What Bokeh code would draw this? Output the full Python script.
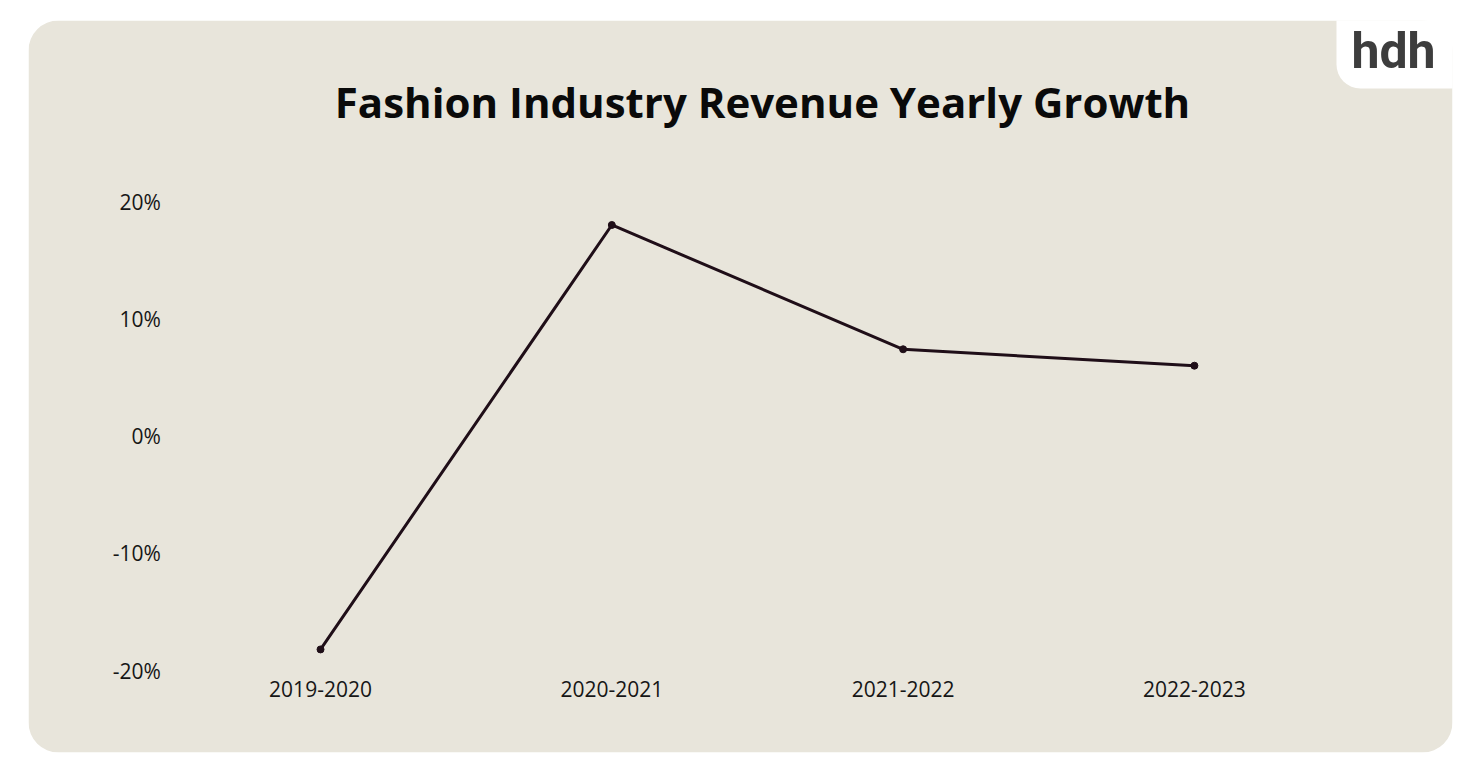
from bokeh.plotting import figure
from bokeh.models import Range1d, FixedTicker, PrintfTickFormatter, BoxAnnotation, Label, ColumnDataSource
from bokeh.embed import file_html
from bokeh.resources import INLINE

periods = ["2019-2020", "2020-2021", "2021-2022", "2022-2023"]
growth = [-18.2, 18.0, 7.4, 6.0]
y_ticks = [-20, -10, 0, 10, 20]
title_text = "Fashion Industry Revenue Yearly Growth"
logo_text = "hdh"

BEIGE = "#E8E5DB"
LINE = "#1F0E18"
FONT = "Open Sans"

W, H = 1464, 758
x_idx = list(range(len(periods)))

p = figure(width=W, height=H,
           x_range=Range1d(-1.0025, 3.886),
           y_range=Range1d(-26.99, 35.44),
           output_backend="svg", toolbar_location=None,
           min_border_left=28, min_border_right=W - 1452,
           min_border_top=20, min_border_bottom=H - 752,
           border_fill_color="white", background_fill_color=None,
           outline_line_color=None)

# beige rounded panel (canvas units)
panel = BoxAnnotation(left=28, right=1452, top=20, bottom=752,
                      left_units="canvas", right_units="canvas",
                      top_units="canvas", bottom_units="canvas",
                      fill_color=BEIGE, fill_alpha=1, line_color=None,
                      border_radius=30, level="underlay")
p.add_layout(panel)
cut = BoxAnnotation(left=1336, right=1470, top=0, bottom=88,
                    left_units="canvas", right_units="canvas",
                    top_units="canvas", bottom_units="canvas",
                    fill_color="white", fill_alpha=1, line_color=None,
                    border_radius=(0, 0, 0, 24), level="underlay")
p.add_layout(cut)

src = ColumnDataSource(data=dict(x=x_idx, y=growth))
p.line("x", "y", source=src, line_color=LINE, line_width=3)
p.scatter("x", "y", source=src, size=7, fill_color=LINE, line_color=LINE)

p.xgrid.visible = False
p.ygrid.visible = False
for ax in (p.xaxis[0], p.yaxis[0]):
    ax.axis_line_color = None
    ax.major_tick_line_color = None
    ax.minor_tick_line_color = None
    ax.major_tick_out = 0
    ax.major_tick_in = 0
    ax.major_label_text_font = FONT
    ax.major_label_text_font_size = "21px"
    ax.major_label_text_color = "#161616"
p.yaxis[0].ticker = FixedTicker(ticks=y_ticks)
p.yaxis[0].formatter = PrintfTickFormatter(format="%d%%")
p.yaxis[0].major_label_standoff = 14
p.yaxis[0].fixed_location = -0.5
p.xaxis[0].ticker = FixedTicker(ticks=x_idx)
p.xaxis[0].major_label_overrides = {i: s for i, s in zip(x_idx, periods)}
p.xaxis[0].major_label_standoff = 10
p.xaxis[0].fixed_location = y_ticks[0]

title = Label(x=762, y=101, x_units="canvas", y_units="canvas", text=title_text,
              text_font=FONT, text_font_style="bold", text_font_size="42px",
              text_color="#0a0a0a", text_align="center", text_baseline="middle")
p.add_layout(title)
logo = Label(x=1393, y=50, x_units="canvas", y_units="canvas", text=logo_text,
             text_font="Roboto", text_font_style="bold", text_font_size="50px",
             text_color="#3d3d3d", text_align="center", text_baseline="middle")
p.add_layout(logo)

open("out.html", "w").write(file_html(p, INLINE))
